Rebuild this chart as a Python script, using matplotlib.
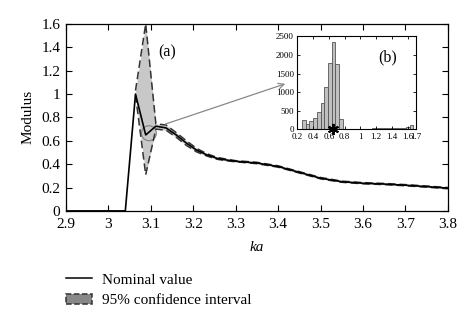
import numpy as np
import matplotlib
matplotlib.use('Agg')

import matplotlib.pyplot as plt
from matplotlib.patches import Ellipse, Patch
from matplotlib.lines import Line2D
from matplotlib.ticker import FuncFormatter

plt.rcParams['font.family'] = ['Liberation Serif', 'DejaVu Serif']

# Main curve: modulus vs ka
ka = [2.9, 3.04, 3.064, 3.088, 3.112, 3.136, 3.16, 3.184, 3.208, 3.232,
      3.256, 3.28, 3.30, 3.35, 3.40, 3.45, 3.50, 3.55, 3.60, 3.65, 3.70,
      3.75, 3.80]
nominal = [0, 0, 1.0, 0.65, 0.725, 0.71, 0.65, 0.58, 0.52, 0.48,
           0.45, 0.435, 0.425, 0.41, 0.38, 0.33, 0.28, 0.25, 0.237, 0.23,
           0.22, 0.208, 0.195]

# 95% confidence bounds (start at the first peak)
ka_ci = [3.064, 3.088, 3.112, 3.136, 3.16, 3.184, 3.208, 3.232, 3.256,
         3.28, 3.30, 3.35, 3.40, 3.45, 3.50, 3.55, 3.60, 3.65, 3.70, 3.75,
         3.80]
ci_upper = [1.03, 1.60, 0.745, 0.735, 0.67, 0.60, 0.535, 0.49, 0.458,
            0.442, 0.43, 0.416, 0.386, 0.336, 0.286, 0.255, 0.242, 0.235,
            0.225, 0.213, 0.20]
ci_lower = [0.99, 0.31, 0.70, 0.69, 0.63, 0.56, 0.505, 0.47, 0.442,
            0.428, 0.42, 0.404, 0.374, 0.324, 0.274, 0.245, 0.232, 0.225,
            0.215, 0.203, 0.19]

# Inset histogram (b)
bin_left = [0.26, 0.307, 0.354, 0.401, 0.448, 0.495, 0.542, 0.589, 0.636,
            0.683, 0.730, 0.777, 0.824, 0.871, 0.918, 0.965, 1.012, 1.059,
            1.106, 1.153, 1.200, 1.247, 1.294, 1.341, 1.388, 1.435, 1.482,
            1.529, 1.576, 1.623]
bin_width = 0.047
counts = [250, 150, 230, 290, 460, 700, 1130, 1780, 2350, 1770, 280,
          0, 0, 0, 3, 5, 8, 12, 18, 25, 30, 35, 30, 38, 35, 40, 35, 40, 50, 120]
nominal_value_b = 0.655

fmt = FuncFormatter(lambda v, pos: '%g' % round(v, 3))

fig = plt.figure(figsize=(4.74, 3.23), dpi=100)
ax = fig.add_axes([0.139, 0.347, 0.806, 0.579])

ax.fill_between(ka_ci, ci_lower, ci_upper, color='#c8c8c8', lw=0)
ax.plot(ka_ci, ci_upper, color='#333333', lw=1.1, dashes=(5, 2.5))
ax.plot(ka_ci, ci_lower, color='#333333', lw=1.1, dashes=(5, 2.5))
ax.plot(ka, nominal, color='black', lw=1.2)

ax.add_patch(Ellipse((3.0956, 0.665), 0.035, 0.128, fill=False,
                     ec='#888888', lw=0.9))
ax.annotate('', xy=(3.423, 1.095), xytext=(3.1286, 0.736),
            arrowprops=dict(arrowstyle='->', color='#888888', lw=0.9))
ax.text(3.138, 1.36, '(a)', fontsize=11.5, ha='center', va='center')

ax.set_xlim(2.9, 3.8)
ax.set_ylim(0, 1.6)
ax.set_xticks(np.arange(2.9, 3.81, 0.1))
ax.set_yticks(np.arange(0, 1.61, 0.2))
ax.xaxis.set_major_formatter(fmt)
ax.yaxis.set_major_formatter(fmt)
ax.tick_params(direction='in', top=True, right=True, length=4,
               labelsize=11, width=0.8)
ax.tick_params(axis='x', pad=5)
ax.tick_params(axis='y', pad=4)
ax.set_xlabel('ka', fontsize=11, style='italic', labelpad=7)
ax.set_ylabel('Modulus', fontsize=11, labelpad=5)
for s in ax.spines.values():
    s.set_linewidth(0.9)

# Inset
axi = fig.add_axes([0.627, 0.600, 0.250, 0.287])
axi.bar(bin_left, counts, width=bin_width, align='edge', color='#c0c0c0',
        edgecolor='#555555', lw=0.6)
axi.plot([nominal_value_b], [0], marker=(6, 2, 0), color='black', ms=8,
         mew=1.4, clip_on=False, zorder=5)
axi.set_xlim(0.2, 1.7)
axi.set_ylim(0, 2500)
axi.set_xticks([0.2, 0.4, 0.6, 0.8, 1.0, 1.2, 1.4, 1.6, 1.7])
axi.set_yticks([0, 500, 1000, 1500, 2000, 2500])
axi.xaxis.set_major_formatter(fmt)
axi.tick_params(direction='in', top=True, right=True, length=2.5,
                labelsize=6.5, width=0.6, pad=2.5)
axi.text(1.35, 1950, '(b)', fontsize=11.5, ha='center', va='center')
for s in axi.spines.values():
    s.set_linewidth(0.8)

handles = [Line2D([], [], color='black', lw=1.1),
           Patch(facecolor='#888888', edgecolor='#333333', ls='--', lw=1.1)]
fig.legend(handles, ['Nominal value', '95% confidence interval'],
           loc='upper left', bbox_to_anchor=(0.14, 1 - 273 / 323),
           frameon=False, fontsize=11, handlelength=1.7,
           handletextpad=0.65, labelspacing=0.45, borderpad=0,
           borderaxespad=0)

fig.savefig('out.png', dpi=100)
